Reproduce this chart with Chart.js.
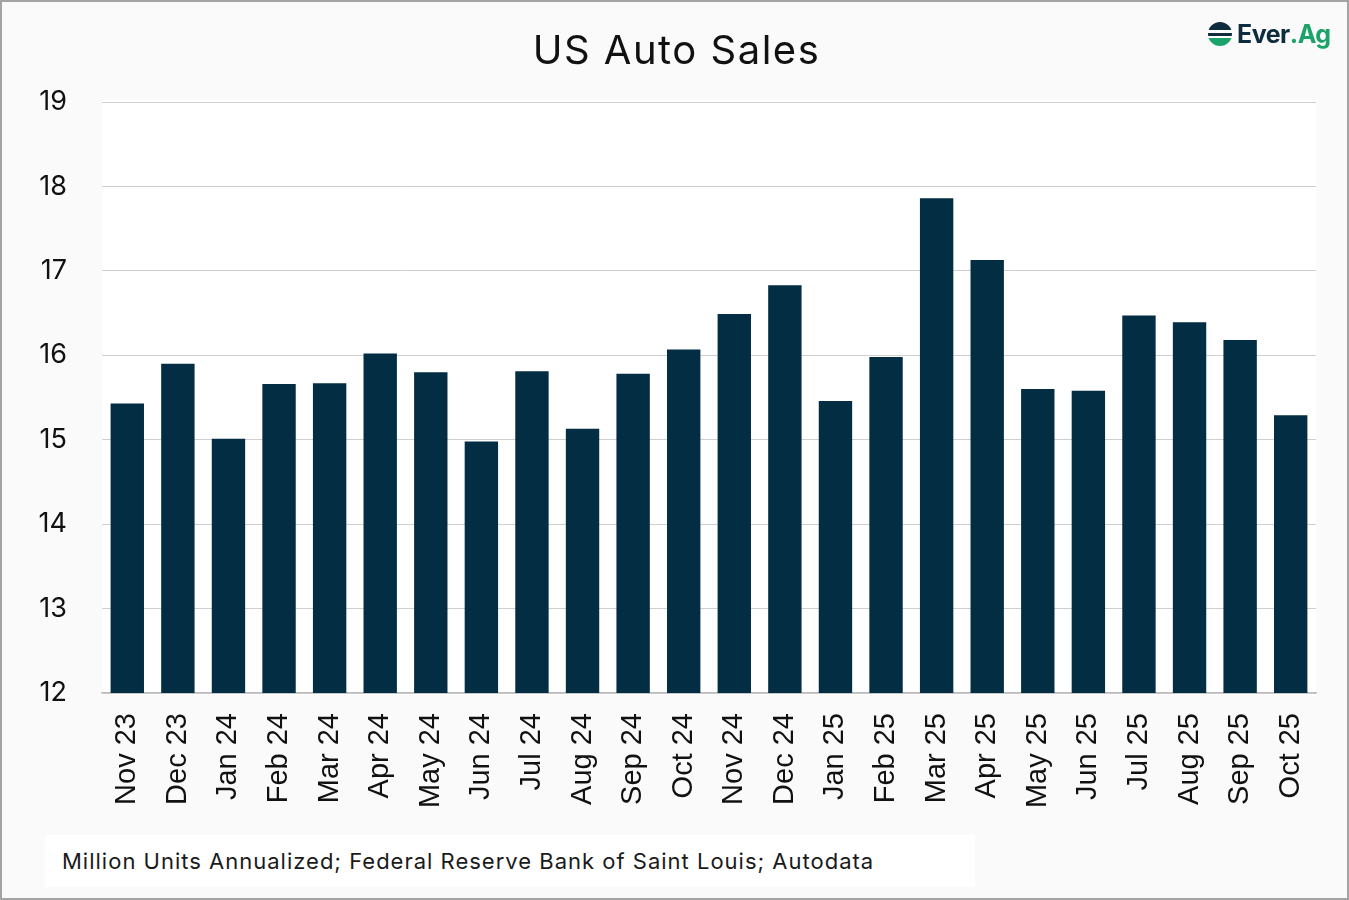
<!DOCTYPE html>
<html>
<head>
<meta charset="utf-8">
<script src="https://cdn.jsdelivr.net/npm/chart.js@4"></script>
<style>
  html, body { margin: 0; padding: 0; background: #fafafa; }
  #wrap { position: relative; width: 1349px; height: 900px; box-sizing: border-box; border: 2px solid #a3a3a3; background: #fafafa; overflow: hidden; }
  #chart { position: absolute; left: -2px; top: -2px; }
  #title { position: absolute; left: 0; width: 1349px; top: 23px; text-align: center; font: 400 40px Inter, "Noto Sans", sans-serif; letter-spacing: 1.5px; color: #111; }
  #logo { position: absolute; left: 1206px; top: 17px; font: 700 25px Inter, "Noto Sans", sans-serif; color: #0d2c3d; display: flex; align-items: center; letter-spacing: -0.5px; }
  #logo .ic { width: 24px; height: 24px; border-radius: 50%; margin-right: 5px; background: linear-gradient(#0d2c3d 0 35%, #fff 35% 45%, #0d2c3d 45% 60%, #fff 60% 68%, #1ba36a 68% 100%); }
  #logo .ag { color: #1ba36a; }
  #foot { position: absolute; left: 43px; top: 833px; width: 930px; height: 52px; background: #ffffff; font: 400 22px Inter, "Noto Sans", sans-serif; letter-spacing: 1px; color: #1a1a1a; line-height: 52px; padding-left: 17px; box-sizing: border-box; white-space: nowrap; }
</style>
</head>
<body>
<div id="wrap">
  <canvas id="chart" width="1349" height="900"></canvas>
  <div id="title">US Auto Sales</div>
  <div id="logo"><span class="ic"></span>Ever<span class="ag">.Ag</span></div>
  <div id="foot">Million Units Annualized; Federal Reserve Bank of Saint Louis; Autodata</div>
</div>
<script>
const months = ['Nov 23', 'Dec 23', 'Jan 24', 'Feb 24', 'Mar 24', 'Apr 24', 'May 24', 'Jun 24',
  'Jul 24', 'Aug 24', 'Sep 24', 'Oct 24', 'Nov 24', 'Dec 24', 'Jan 25', 'Feb 25',
  'Mar 25', 'Apr 25', 'May 25', 'Jun 25', 'Jul 25', 'Aug 25', 'Sep 25', 'Oct 25'];
const sales = [15.43, 15.90, 15.01, 15.66, 15.67, 16.02, 15.80, 14.98,
  15.81, 15.13, 15.78, 16.07, 16.49, 16.83, 15.46, 15.98,
  17.86, 17.13, 15.60, 15.58, 16.47, 16.39, 16.18, 15.29];
const yMin = 12;
const yMax = 19;

// white plot area on the light grey page
const plotBg = {
  id: 'plotBg',
  beforeDraw(chart) {
    const { ctx, chartArea: a } = chart;
    ctx.save();
    ctx.fillStyle = '#fafafa';
    ctx.fillRect(0, 0, chart.width, chart.height);
    ctx.fillStyle = '#ffffff';
    ctx.fillRect(a.left, a.top - 2, a.right - a.left, a.bottom - a.top + 4);
    ctx.restore();
  }
};

new Chart(document.getElementById('chart'), {
  type: 'bar',
  data: {
    labels: months,
    datasets: [{
      data: sales,
      backgroundColor: '#022d42',
      barPercentage: 0.66,
      categoryPercentage: 1,
    }],
  },
  options: {
    responsive: false,
    animation: false,
    layout: { padding: { top: 102, right: 33, left: 0, bottom: 0 } },
    plugins: { legend: { display: false }, tooltip: { enabled: false } },
    scales: {
      x: {
        grid: { display: false, drawTicks: false },
        border: { color: '#bdbdbd', width: 1.5 },
        ticks: {
          color: '#111',
          minRotation: 90, maxRotation: 90,
          padding: 20,
          font: { family: '"Liberation Sans", Arial, sans-serif', size: 29 },
        },
        afterFit: s => { s.height = 207; },
      },
      y: {
        min: yMin, max: yMax,
        grid: { color: '#cfcfcf', drawTicks: false },
        border: { display: false },
        ticks: {
          stepSize: 1,
          color: '#111',
          padding: 35,
          font: { family: 'Inter, "Noto Sans", sans-serif', size: 27 },
        },
        afterFit: s => { s.width = 102; },
      },
    },
  },
  plugins: [plotBg],
});
</script>
</body>
</html>
